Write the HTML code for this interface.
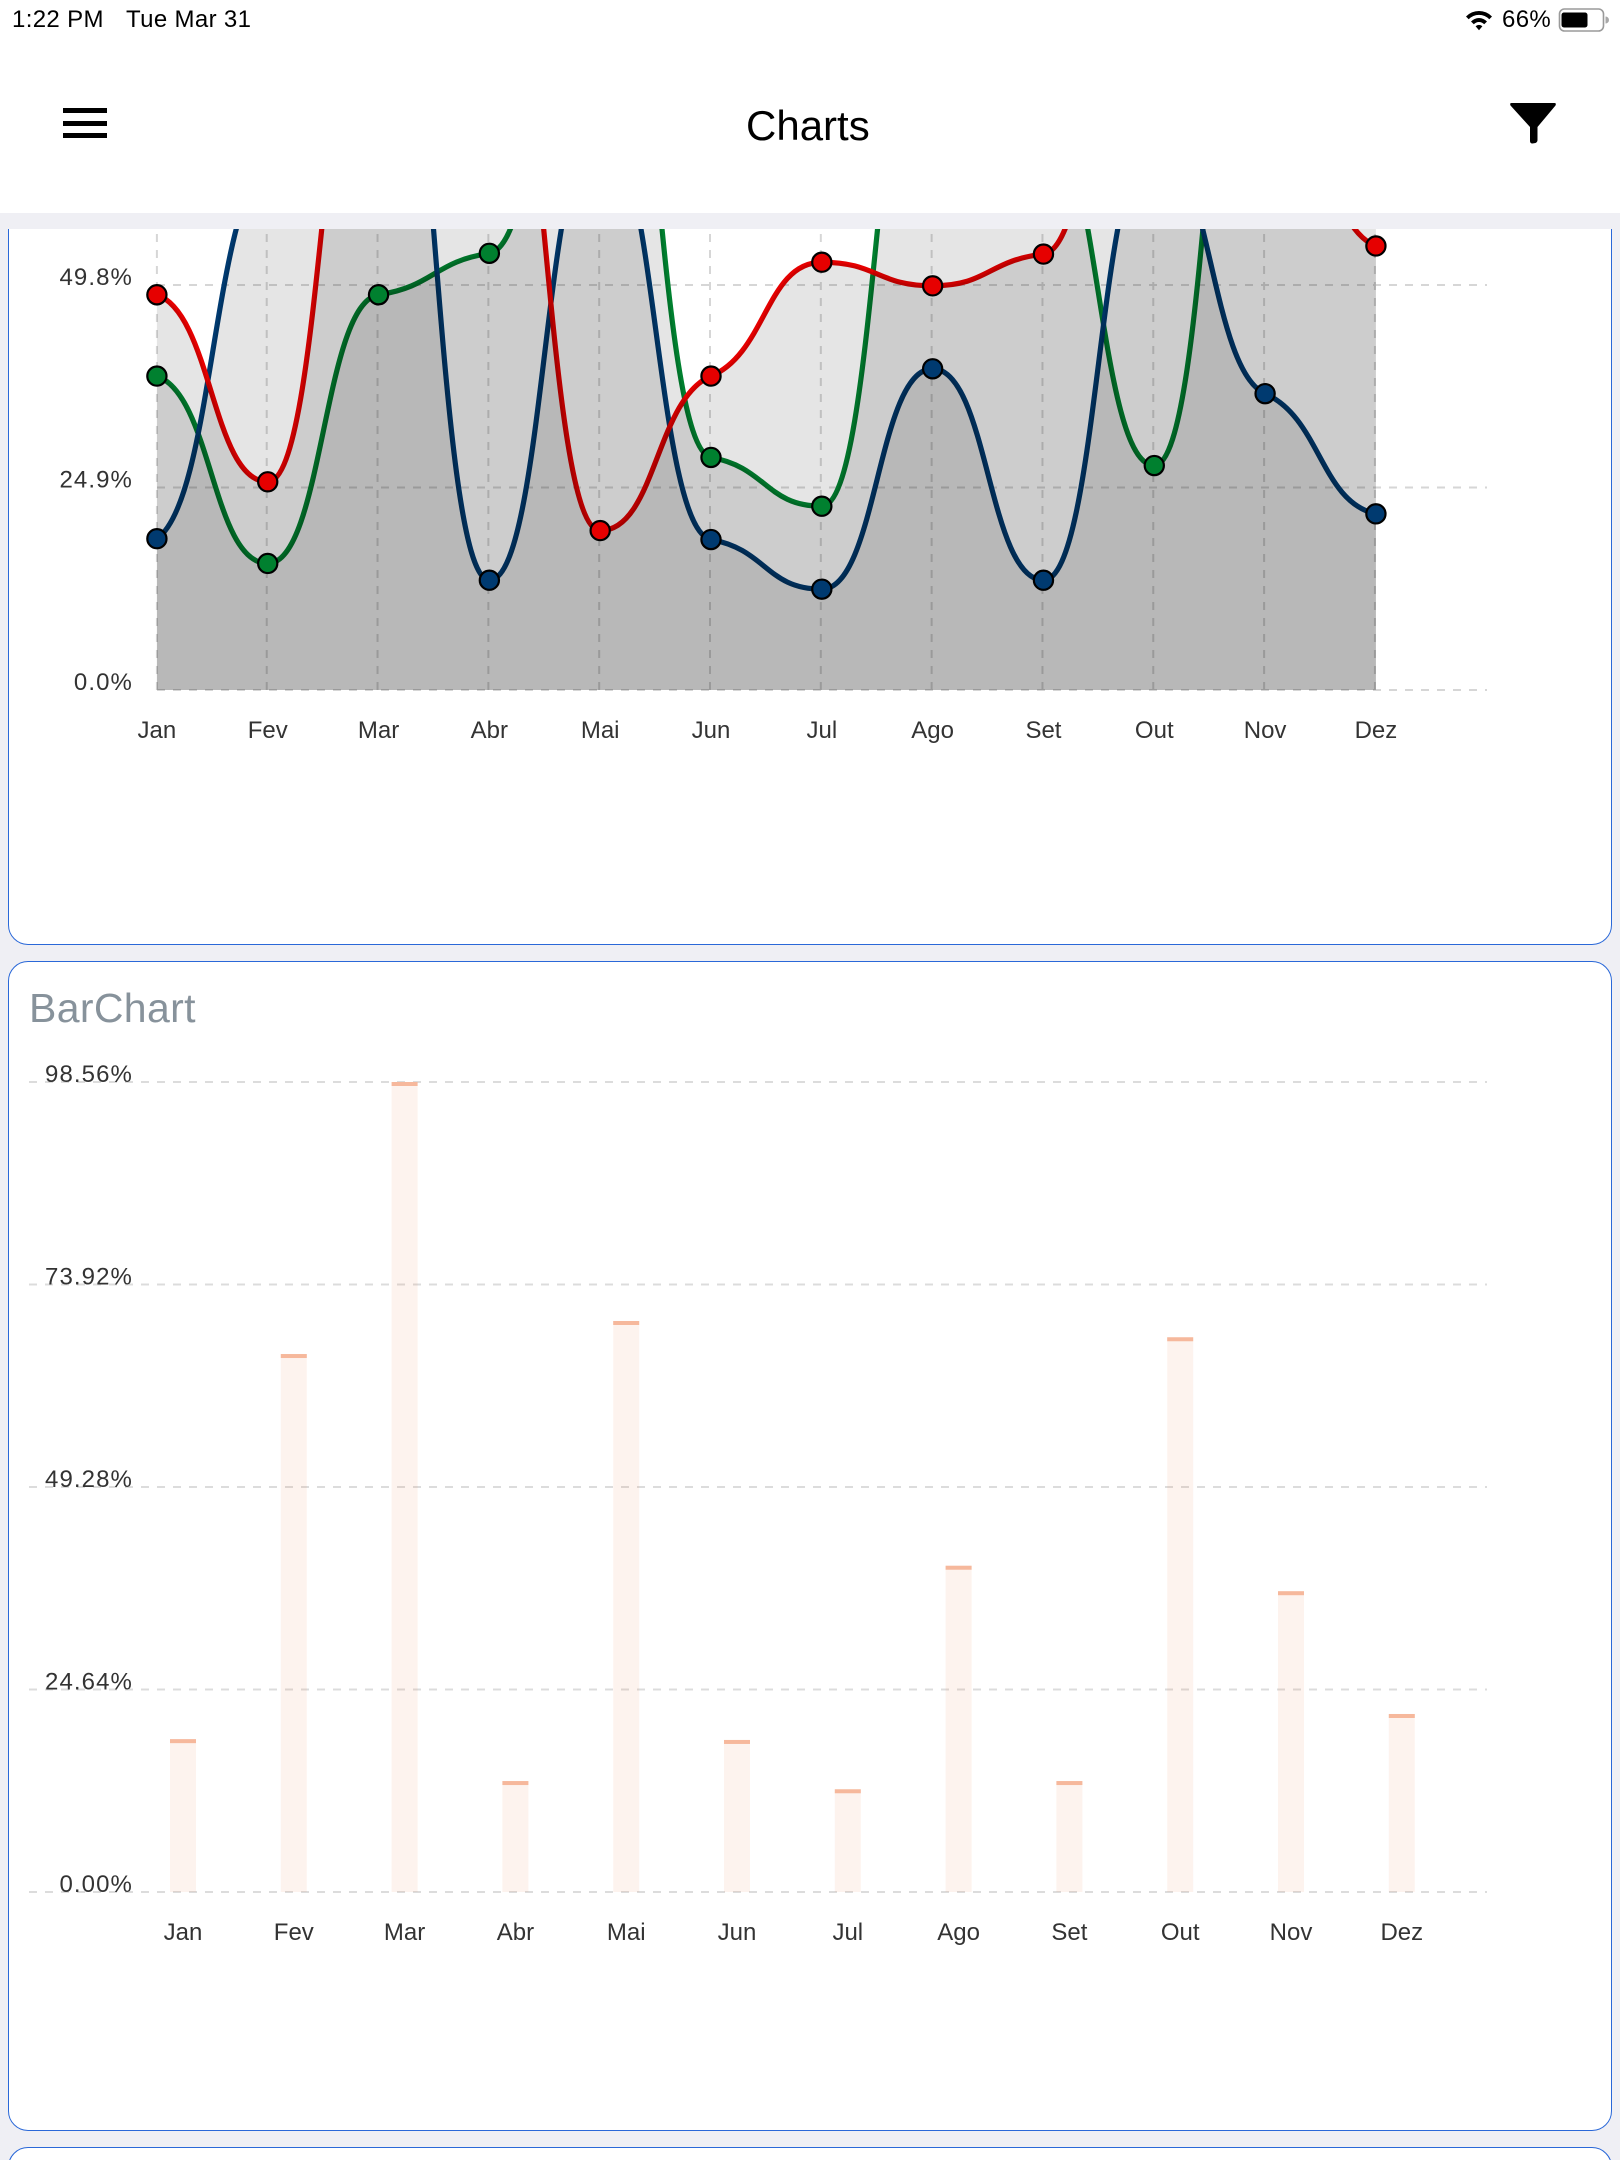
<!DOCTYPE html>
<html lang="pt">
<head>
<meta charset="utf-8">
<title>Charts</title>
<style>
  html { margin: 0; padding: 0; width: 1620px; height: 2160px; overflow: hidden; }
  body { margin: 0; padding: 0; width: 1620px; height: 2160px; position: relative; overflow: hidden; background: #efeff4;
         font-family: "Liberation Sans", sans-serif; color: #000; }
  .card { position: absolute; left: 8px; width: 1602px; background: #fff; border: 1.5px solid #2a68d8; border-radius: 20px; box-sizing: content-box; }
  #charts-svg { position: absolute; left: 0; top: 0; }
  #header { position: absolute; left: 0; top: 0; width: 1620px; height: 213px; background: #fff; }
  #band { position: absolute; left: 0; top: 213px; width: 1620px; height: 16px; background: #efeff4; }
  .status { position: absolute; font-size: 24px; line-height: 24px; top: 8px; white-space: nowrap; letter-spacing: 0.35px; }
  #title-text { position: absolute; left: 746px; top: 102px; font-size: 42px; line-height: 48px; white-space: nowrap; }
  #bar-title { position: absolute; left: 29px; top: 985px; font-size: 41px; line-height: 47px; letter-spacing: 0.35px; color: #87929b; white-space: nowrap; }
  .ham { position: absolute; left: 63px; width: 44px; height: 5px; background: #000; }
</style>
</head>
<body>

<div class="card" style="top:-400px;height:1343px"></div>
<div class="card" style="top:961px;height:1168px"></div>
<div class="card" style="top:2147px;height:100px"></div>

<svg id="charts-svg" width="1620" height="2160" viewBox="0 0 1620 2160" xmlns="http://www.w3.org/2000/svg">
  <g id="line-chart"></g>
  <g id="bar-chart"></g>
</svg>

<div id="bar-title">BarChart</div>

<div id="header">
  <div class="status" style="left:12px">1:22 PM</div>
  <div class="status" style="left:126px">Tue Mar 31</div>
  <svg style="position:absolute;left:1465px;top:8px" width="28" height="24" viewBox="0 0 28 24">
    <path d="M1 8.5 A18 18 0 0 1 27 8.5 L24.3 11.3 A14.2 14.2 0 0 0 3.7 11.3 Z M6 13.5 A11 11 0 0 1 22 13.5 L19.2 16.3 A7 7 0 0 0 8.8 16.3 Z M10.6 18.2 A5 5 0 0 1 17.4 18.2 L14 22.2 Z" fill="#000"/>
  </svg>
  <div class="status" style="left:1502px">66%</div>
  <svg style="position:absolute;left:1557px;top:6px" width="56" height="28" viewBox="0 0 56 28">
    <rect x="2.5" y="3" width="44" height="22" rx="5" fill="none" stroke="#9a9a9a" stroke-width="1.6"/>
    <rect x="4.5" y="6.5" width="26" height="15" rx="2.5" fill="#000"/>
    <path d="M48.5 10.5 a3.5 3.5 0 0 1 0 7 Z" fill="#a8a8a8"/>
  </svg>
  <div style="position:absolute;left:50px;top:95px;width:70px;height:56px">
    <div class="ham" style="left:13px;top:13px"></div>
    <div class="ham" style="left:13px;top:26px"></div>
    <div class="ham" style="left:13px;top:38px"></div>
  </div>
  <div id="title-text">Charts</div>
  <svg style="position:absolute;left:1508px;top:101px" width="50" height="44" viewBox="0 0 50 44">
    <path d="M3.5 2 H46.5 Q48.5 2 47.5 4.5 L29.5 26 V39 Q29.5 41 27.5 42 L24.5 42.5 Q22 42.5 22 40 V26 L2.5 4.5 Q1.5 2 3.5 2 Z" fill="#000"/>
  </svg>
</div>
<div id="band"></div>

<script>
const months = ["Jan","Fev","Mar","Abr","Mai","Jun","Jul","Ago","Set","Out","Nov","Dez"];
const lineTickValues = [0, 24.9, 49.8, 74.7, 99.6];
const lineTickLabels = ["0.0%","24.9%","49.8%","74.7%","99.6%"];
const blueSeries  = [18.6, 65.46, 98.56, 13.5, 69.48, 18.5, 12.4, 39.5, 13.5, 67.4, 36.44, 21.66];
const greenSeries = [38.6, 15.56, 48.6, 53.7, 100, 28.6, 22.6, 90, 72, 27.6, 104, 80];
const redSeries   = [48.6, 25.6, 91, 91, 19.6, 38.6, 52.6, 49.7, 53.6, 100, 80, 54.6];
const barValues   = [18.6, 65.46, 98.56, 13.5, 69.48, 18.5, 12.5, 39.7, 13.5, 67.5, 36.6, 21.66];
const barTickValues = [0, 24.64, 49.28, 73.92, 98.56];
const barTickLabels = ["0.00%","24.64%","49.28%","73.92%","98.56%"];

const SVGNS = "http://www.w3.org/2000/svg";
const lineG = document.getElementById("line-chart");
const barG = document.getElementById("bar-chart");

function lineX(i) { return 156.9 + i * 110.82; }
function gridX(i) { return i === 0 ? lineX(i) : lineX(i) - 1; }
function lineY(v) { return 690 - (v / 99.6) * 810; }
function barCenter(i) { return 183 + i * 110.8; }
function barY(v) { return 1892 - (v / 98.56) * 810; }

function mk(tag, parent) {
  const el = document.createElementNS(SVGNS, tag);
  parent.appendChild(el);
  return el;
}
function setAll(el, attrs) {
  for (const k in attrs) el.setAttribute(k, attrs[k]);
}

/* monotone curve with long horizontal-biased handles, in pixel space */
const HANDLE = 0.5, INNER_BASE = 0.2, INNER_RATIO = 0.2, END_K = 0.2;
function curvePath(pts) {
  const n = pts.length, s = [], m = [];
  for (let i = 0; i < n - 1; i++) s.push((pts[i + 1][1] - pts[i][1]) / (pts[i + 1][0] - pts[i][0]));
  m[0] = END_K * s[0];
  m[n - 1] = END_K * s[n - 2];
  for (let i = 1; i < n - 1; i++) {
    if (s[i - 1] * s[i] <= 0) { m[i] = 0; continue; }
    const a = Math.abs(s[i - 1]), b = Math.abs(s[i]);
    const k = INNER_BASE + INNER_RATIO * Math.min(a, b) / Math.max(a, b);
    m[i] = k * 2 * s[i - 1] * s[i] / (s[i - 1] + s[i]);
  }
  let d = "M" + pts[0][0].toFixed(2) + " " + pts[0][1].toFixed(2);
  for (let i = 0; i < n - 1; i++) {
    const h = (pts[i + 1][0] - pts[i][0]) * HANDLE;
    d += "C" + (pts[i][0] + h).toFixed(2) + " " + (pts[i][1] + h * m[i]).toFixed(2) + " " +
         (pts[i + 1][0] - h).toFixed(2) + " " + (pts[i + 1][1] - h * m[i + 1]).toFixed(2) + " " +
         pts[i + 1][0].toFixed(2) + " " + pts[i + 1][1].toFixed(2);
  }
  return d;
}

/* ---------- line chart ---------- */
lineTickValues.forEach(function (v) {
  const g = mk("line", lineG);
  
  
  setAll(g, { x1: 157, x2: 1487, y1: lineY(v), y2: lineY(v), stroke: "#d6d6d6", "stroke-width": 2, "stroke-dasharray": "8 8" });
});
months.forEach(function (m, i) {
  const g = mk("line", lineG);
  
  
  setAll(g, { x1: gridX(i), x2: gridX(i), y1: 690, y2: 200, stroke: "#d6d6d6", "stroke-width": 2, "stroke-dasharray": "8 8" });
});

const greenPts = greenSeries.map(function (v, i) { return [lineX(i), lineY(v)]; });
const bluePts = blueSeries.map(function (v, i) { return [lineX(i), lineY(v)]; });
const redPts = redSeries.map(function (v, i) { return [lineX(i), lineY(v)]; });

const greenLine = mk("path", lineG);


setAll(greenLine, { d: curvePath(greenPts), fill: "none", stroke: "#00802f", "stroke-width": 5.2 });

const blueLine = mk("path", lineG);


setAll(blueLine, { d: curvePath(bluePts), fill: "none", stroke: "#003a70", "stroke-width": 5.2 });

const redLine = mk("path", lineG);


setAll(redLine, { d: curvePath(redPts), fill: "none", stroke: "#e60000", "stroke-width": 5.2 });

function areaPath(pts) {
  return curvePath(pts) + "L" + pts[pts.length - 1][0] + " " + lineY(0) + "L" + pts[0][0] + " " + lineY(0) + "Z";
}
const greenArea = mk("path", lineG);


setAll(greenArea, { d: areaPath(greenPts), fill: "#000", "fill-opacity": 0.1 });

const blueArea = mk("path", lineG);


setAll(blueArea, { d: areaPath(bluePts), fill: "#000", "fill-opacity": 0.1 });

const redArea = mk("path", lineG);


setAll(redArea, { d: areaPath(redPts), fill: "#000", "fill-opacity": 0.1 });

greenPts.forEach(function (p) {
  const c = mk("circle", lineG);
  
  
  setAll(c, { cx: p[0], cy: p[1], r: 9.6, fill: "#00802f", stroke: "#000", "stroke-width": 2.2 });
});
bluePts.forEach(function (p) {
  const c = mk("circle", lineG);
  
  
  setAll(c, { cx: p[0], cy: p[1], r: 9.6, fill: "#003a70", stroke: "#000", "stroke-width": 2.2 });
});
redPts.forEach(function (p) {
  const c = mk("circle", lineG);
  
  
  setAll(c, { cx: p[0], cy: p[1], r: 9.6, fill: "#e60000", stroke: "#000", "stroke-width": 2.2 });
});

lineTickValues.forEach(function (v, i) {
  const t = mk("text", lineG);
  
  
  setAll(t, { x: 133, y: lineY(v), "text-anchor": "end", "font-size": 24, "letter-spacing": 1.1, fill: "#333" });
  t.textContent = lineTickLabels[i];
});
months.forEach(function (m, i) {
  const t = mk("text", lineG);
  
  
  setAll(t, { x: lineX(i), y: 738, "text-anchor": "middle", "font-size": 24, fill: "#333" });
  t.textContent = m;
});

/* ---------- bar chart ---------- */
barTickValues.forEach(function (v) {
  const g = mk("line", barG);
  
  
  setAll(g, { x1: 29, x2: 1487, y1: barY(v), y2: barY(v), stroke: "#dcdcdc", "stroke-width": 2, "stroke-dasharray": "8 8" });
});
barValues.forEach(function (v, i) {
  const b = mk("rect", barG);
  
  
  setAll(b, { x: barCenter(i) - 13, y: barY(v), width: 26, height: barY(0) - barY(v), fill: "rgb(235,135,85)", "fill-opacity": 0.1 });
  const cap = mk("rect", barG);
  
  
  setAll(cap, { x: barCenter(i) - 13, y: barY(v), width: 26, height: 4, fill: "#f6b89c" });
});
barTickValues.forEach(function (v, i) {
  const t = mk("text", barG);
  
  
  setAll(t, { x: 133, y: barY(v), "text-anchor": "end", "font-size": 24, "letter-spacing": 1.1, fill: "#333" });
  t.textContent = barTickLabels[i];
});
months.forEach(function (m, i) {
  const t = mk("text", barG);
  
  
  setAll(t, { x: barCenter(i), y: 1940, "text-anchor": "middle", "font-size": 24, fill: "#333" });
  t.textContent = m;
});
</script>
</body>
</html>
